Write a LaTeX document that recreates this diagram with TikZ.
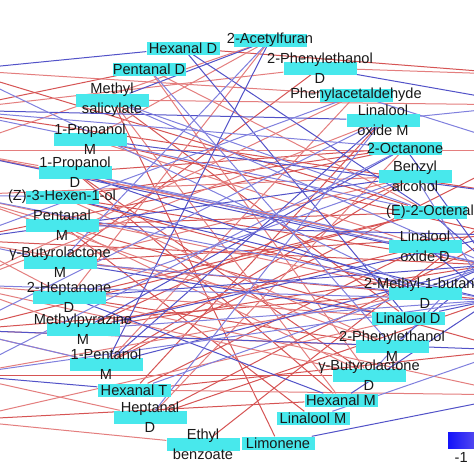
\documentclass[tikz,border=0pt]{standalone}
\usepackage{fontspec}
\newfontfamily\arialfont{Liberation Sans}
\usetikzlibrary{positioning, backgrounds}

\definecolor{boxcyan}{RGB}{72,232,236}
\definecolor{posred}{RGB}{214,84,84}
\definecolor{poslight}{RGB}{228,126,126}
\definecolor{negblue}{RGB}{82,82,200}
\definecolor{neglight}{RGB}{128,128,222}
\definecolor{txtgray}{RGB}{25,25,25}

\tikzset{
  mol/.style={fill=boxcyan, minimum width=73pt, minimum height=13pt, inner sep=0pt},
  txt/.style={font=\arialfont\fontsize{14.6}{20}\selectfont, text=txtgray, align=center, inner sep=0pt},
  poscor/.style={draw=posred, line width=1pt},
  poscorl/.style={draw=poslight, line width=1pt},
  negcor/.style={draw=negblue, line width=1pt},
  negcorl/.style={draw=neglight, line width=1pt}
}

\begin{document}
\begin{tikzpicture}[x=1pt, y=-1pt]
  \useasboundingbox (0,0) rectangle (474,474);
  \clip (0,0) rectangle (474,474);

  % compounds round the ring
  \node[mol, label={[txt]center:Hexanal D}] (hexD) at (183,48) {};
  \node[mol, label={[txt]center:2-Acetylfuran}] (acet) at (270,40) {};
  \node[mol, label={[txt]center:{2-Phenylethanol\\D}}] (pheD) at (320,68) {};
  \node[mol, label={[txt]center:Pentanal D}] (pentD) at (149,69) {};
  \node[mol, label={[txt]center:Phenylacetaldehyde}] (phac) at (356,95) {};
  \node[mol, label={[txt]center:{Methyl\\salicylate}}] (mesal) at (112,100) {};
  \node[mol, label={[txt]center:{Linalool\\oxide M}}] (linoxM) at (383,120) {};
  \node[mol, label={[txt]center:{1-Propanol\\M}}] (propM) at (90,139) {};
  \node[mol, label={[txt]center:2-Octanone}] (octa) at (405,148) {};
  \node[mol, label={[txt]center:{1-Propanol\\D}}] (propD) at (75,172) {};
  \node[mol, label={[txt]center:{Benzyl\\alcohol}}] (benz) at (415,176) {};
  \node[mol, label={[txt]center:(Z)-3-Hexen-1-ol}] (hexen) at (62,197) {};
  \node[mol, label={[txt]center:(E)-2-Octenal}] (octe) at (430,212) {};
  \node[mol, label={[txt]center:{Pentanal\\M}}] (pentM) at (62,225) {};
  \node[mol, label={[txt]center:{Linalool\\oxide D}}] (linoxD) at (425,246) {};
  \node[mol, label={[txt]center:{γ-Butyrolactone\\M}}] (butM) at (60,262) {};
  \node[mol, label={[txt]center:{2-Methyl-1-butanol\\D}}] (mbut) at (425,293) {};
  \node[mol, label={[txt]center:{2-Heptanone\\D}}] (heptD) at (69,297) {};
  \node[mol, label={[txt]center:Linalool D}] (linD) at (408,318) {};
  \node[mol, label={[txt]center:{Methylpyrazine\\M}}] (mpyr) at (83,329) {};
  \node[mol, label={[txt]center:{2-Phenylethanol\\M}}] (pheM) at (392,346) {};
  \node[mol, label={[txt]center:{1-Pentanol\\M}}] (pentolM) at (106,364) {};
  \node[mol, label={[txt]center:{γ-Butyrolactone\\D}}] (butD) at (369,375) {};
  \node[mol, label={[txt]center:Hexanal T}] (hexT) at (134,390) {};
  \node[mol, label={[txt]center:Hexanal M}] (hexM) at (341,400) {};
  \node[mol, label={[txt]center:{Heptanal\\D}}] (heptalD) at (150,417) {};
  \node[mol, label={[txt]center:Linalool M}] (linM) at (313,418) {};
  \node[mol, label={[txt]center:Limonene}] (limo) at (278,443) {};
  \node[mol, label={[txt]center:{Ethyl\\benzoate}}] (ethb) at (203,444) {};

  % colour scale
  \node[minimum width=26pt, minimum height=16pt, inner sep=0pt, anchor=north west,
        left color={rgb,255:red,20;green,20;blue,250}, right color={rgb,255:red,80;green,70;blue,240}] (cbar) at (448,432) {};
  \node[txt, below=4pt of cbar] {-1};

  % partners outside the frame
  \coordinate (la) at (-40,70);  \coordinate (lb) at (-50,110);
  \coordinate (lc) at (-50,150); \coordinate (ld) at (-40,195);
  \coordinate (le) at (-40,240); \coordinate (lf) at (-40,285);
  \coordinate (lg) at (-40,330); \coordinate (lh) at (-40,375);
  \coordinate (li) at (-40,420);
  \coordinate (ra) at (530,75);  \coordinate (rb) at (530,105);
  \coordinate (rc) at (530,150); \coordinate (rd) at (520,195);
  \coordinate (re) at (500,235); \coordinate (rf) at (490,265);
  \coordinate (rg) at (492,300); \coordinate (rh) at (510,350);
  \coordinate (ri) at (520,395);

  % correlations
  \begin{scope}[on background layer]
    \fill[white] (0,0) rectangle (474,474);
    \clip (0,0) rectangle (474,474);
    \foreach \a/\b in {pentD/lb, propM/re, propD/octa, hexen/rf, pentM/octe, butM/rg,
        heptD/pheM, mpyr/linoxD, pentolM/rc, hexT/rh, heptalD/re, ethb/rd, linM/pentM,
        limo/mesal, hexM/propD, octe/la, benz/mpyr, linoxM/hexT, pheD/butM, hexD/ra,
        lh/butD, lg/octe, le/octa, lb/rd, hexen/mbut, mesal/linD, propD/butD, hexen/octa,
        pentM/rh, butM/re, heptD/octe, mpyr/rf, pentolM/benz, hexT/linoxD, heptalD/rg,
        lc/linoxD, le/rf, lg/mbut, li/hexM}
      \draw[poscor] (\a) -- (\b);
    \foreach \a/\b in {mesal/rb, propD/lc, pentM/ld, butM/benz, heptD/le, mpyr/lf,
        pentolM/lg, heptalD/lh, ethb/li, butD/lf, pheM/lg, linD/le, mbut/ld, linoxD/lc,
        octa/heptalD, phac/pentolM, acet/heptD, pheD/ra, pentD/butD, mesal/hexM,
        hexT/ri, li/linD, lf/linoxM, ld/pheM, lc/rc, la/phac, heptD/ri, propM/acet,
        propM/linoxD, hexen/pheM, pentD/octe, ld/benz, lf/linD, lh/mbut, pentM/butD,
        acet/lc, pheD/lb, phac/lf}
      \draw[poscorl] (\a) -- (\b);
    \foreach \a/\b in {la/hexD, mesal/acet, hexD/linD, acet/pentolM, pheD/rb,
        octa/rf, octe/rf, linoxD/rg, mbut/rf, linD/rg, pheM/rf, hexM/rg, limo/ri,
        pentM/re, heptD/hexM, hexT/lh, octa/mpyr, mbut/propD, lc/rf,
        pentolM/linoxM, butM/linD, propM/rd, hexen/rg, heptD/rf, mpyr/re, lb/linoxM,
        le/benz, lg/rh, pentolM/rf, hexD/octe}
      \draw[negcor] (\a) -- (\b);
    \foreach \a/\b in {pentD/pheM, acet/butM, phac/rc, linoxM/rb, benz/rg, butD/re,
        linM/rh, propM/lb, propD/linoxD, hexen/ld, butM/le, mpyr/rg, pentolM/lg,
        hexT/rf, linoxM/heptalD, benz/heptD, octe/propM, ld/rg, mesal/rf, lb/octa,
        la/mbut, propD/rf, butM/mbut, mesal/octe, lf/rg, lh/rg, phac/le, linoxM/lg,
        octa/lh}
      \draw[negcorl] (\a) -- (\b);
  \end{scope}
\end{tikzpicture}
\end{document}
